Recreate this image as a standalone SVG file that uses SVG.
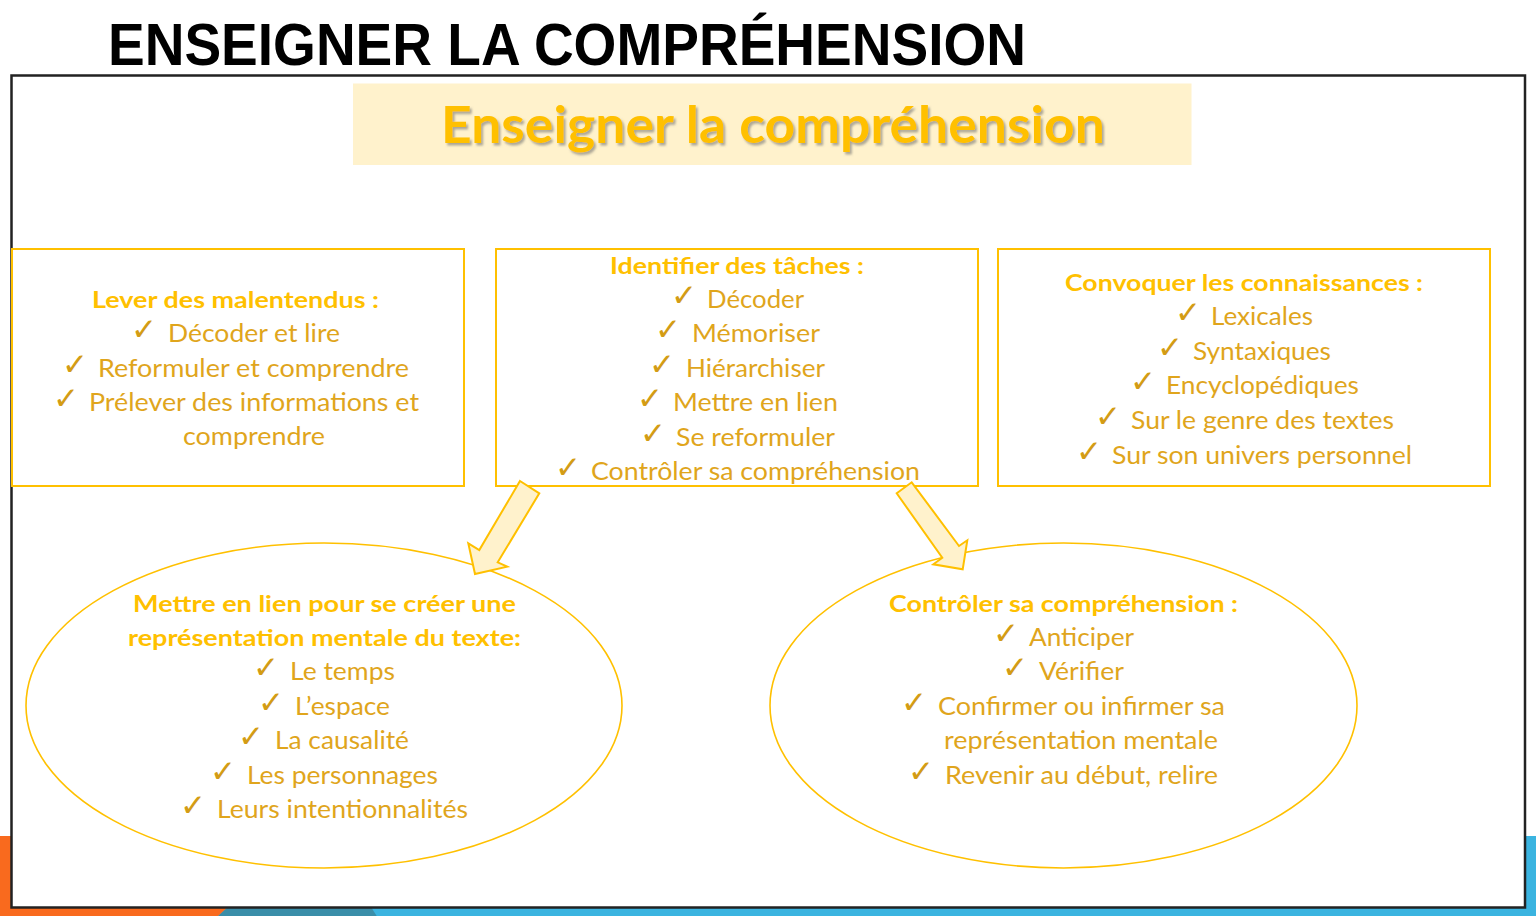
<svg xmlns="http://www.w3.org/2000/svg" width="1536" height="916" viewBox="0 0 1536 916">
<defs>
<filter id="sh" x="-5%" y="-20%" width="110%" height="150%">
<feDropShadow dx="2" dy="2.5" stdDeviation="1.2" flood-color="#6b6b6b" flood-opacity="0.55"/>
</filter>
</defs>
<style>
.h{font-family:Lato,"Open Sans","Liberation Sans",sans-serif;font-weight:700;font-size:22px;fill:#FFC000}
.t{font-family:Lato,"Open Sans","Liberation Sans",sans-serif;font-size:25.5px;fill:#E0A51C}
.ck{font-family:"DejaVu Sans",sans-serif;font-size:31px;fill:#D39C15}
.box{fill:#FFFFFF;stroke:#FFC000;stroke-width:2}
.ell{fill:none;stroke:#FFC000;stroke-width:1.6}
.arr{fill:#FFF2CC;stroke:#FFC000;stroke-width:2;stroke-linejoin:miter}
</style>
<rect x="0" y="0" width="1536" height="916" fill="#FFFFFF"/>
<g id="decor">
<rect x="0" y="836" width="1536" height="80" fill="#3BB4E0"/>
<polygon points="235.4,900 366.7,900 376.7,916 218,916" fill="#3A8EA9"/>
<polygon points="0,836 11,836 11,900 235.4,900 218,916 0,916" fill="#F96A1E"/>
<rect x="11.5" y="75.5" width="1513.5" height="832" fill="#FFFFFF" stroke="#222222" stroke-width="2.5"/>
</g>
<g id="page-title">
<text x="108" y="65" font-family="'Liberation Sans Narrow','Liberation Sans',Arial,sans-serif" font-weight="700" font-size="59" fill="#000000" textLength="918" lengthAdjust="spacingAndGlyphs">ENSEIGNER LA COMPRÉHENSION</text>
</g>
<g id="banner">
<rect x="353" y="83.5" width="838.5" height="81.5" fill="#FFF2CC"/>
<text x="441" y="143.3" font-family="Lato,'Open Sans',sans-serif" font-weight="700" font-size="51" fill="#FFC000" filter="url(#sh)" textLength="664" lengthAdjust="spacingAndGlyphs">Enseigner la compréhension</text>
</g>
<g id="box-malentendus">
<rect class="box" x="12" y="249" width="452" height="237"/>
<text class="h" x="92" y="308" textLength="287" lengthAdjust="spacingAndGlyphs">Lever des malentendus :</text>
<text class="ck" x="131" y="340">✓</text>
<text class="t" x="168" y="342" textLength="172" lengthAdjust="spacingAndGlyphs">Décoder et lire</text>
<text class="ck" x="62" y="374.5">✓</text>
<text class="t" x="98" y="376.5" textLength="311" lengthAdjust="spacingAndGlyphs">Reformuler et comprendre</text>
<text class="ck" x="53" y="409">✓</text>
<text class="t" x="89" y="411" textLength="330" lengthAdjust="spacingAndGlyphs">Prélever des informations et</text>
<text class="t" x="183" y="445" textLength="142" lengthAdjust="spacingAndGlyphs">comprendre</text>
</g>
<g id="box-taches">
<rect class="box" x="496" y="249" width="482" height="237"/>
<text class="h" x="610" y="274" textLength="254" lengthAdjust="spacingAndGlyphs">Identifier des tâches :</text>
<text class="ck" x="671" y="306">✓</text>
<text class="t" x="707" y="308" textLength="97" lengthAdjust="spacingAndGlyphs">Décoder</text>
<text class="ck" x="655" y="340">✓</text>
<text class="t" x="692" y="342" textLength="128" lengthAdjust="spacingAndGlyphs">Mémoriser</text>
<text class="ck" x="649" y="375">✓</text>
<text class="t" x="686" y="377" textLength="139" lengthAdjust="spacingAndGlyphs">Hiérarchiser</text>
<text class="ck" x="637" y="409">✓</text>
<text class="t" x="673" y="411" textLength="165" lengthAdjust="spacingAndGlyphs">Mettre en lien</text>
<text class="ck" x="640" y="444">✓</text>
<text class="t" x="676" y="446" textLength="159" lengthAdjust="spacingAndGlyphs">Se reformuler</text>
<text class="ck" x="555" y="478">✓</text>
<text class="t" x="591" y="480" textLength="329" lengthAdjust="spacingAndGlyphs">Contrôler sa compréhension</text>
</g>
<g id="box-connaissances">
<rect class="box" x="998" y="249" width="492" height="237"/>
<text class="h" x="1065" y="291" textLength="358" lengthAdjust="spacingAndGlyphs">Convoquer les connaissances :</text>
<text class="ck" x="1175" y="323">✓</text>
<text class="t" x="1211" y="325" textLength="102" lengthAdjust="spacingAndGlyphs">Lexicales</text>
<text class="ck" x="1157" y="358">✓</text>
<text class="t" x="1193" y="360" textLength="138" lengthAdjust="spacingAndGlyphs">Syntaxiques</text>
<text class="ck" x="1130" y="392">✓</text>
<text class="t" x="1166" y="394" textLength="193" lengthAdjust="spacingAndGlyphs">Encyclopédiques</text>
<text class="ck" x="1095" y="427">✓</text>
<text class="t" x="1131" y="429" textLength="263" lengthAdjust="spacingAndGlyphs">Sur le genre des textes</text>
<text class="ck" x="1076" y="461.5">✓</text>
<text class="t" x="1112" y="463.5" textLength="300" lengthAdjust="spacingAndGlyphs">Sur son univers personnel</text>
</g>
<g id="ellipse-representation">
<ellipse class="ell" cx="324" cy="705.5" rx="298" ry="162.5"/>
<text class="h" x="133" y="612" textLength="383" lengthAdjust="spacingAndGlyphs">Mettre en lien pour se créer une</text>
<text class="h" x="128" y="646" textLength="393" lengthAdjust="spacingAndGlyphs">représentation mentale du texte:</text>
<text class="ck" x="253" y="678">✓</text>
<text class="t" x="290" y="680" textLength="105" lengthAdjust="spacingAndGlyphs">Le temps</text>
<text class="ck" x="258" y="713">✓</text>
<text class="t" x="295" y="715" textLength="95" lengthAdjust="spacingAndGlyphs">L’espace</text>
<text class="ck" x="238" y="747">✓</text>
<text class="t" x="275" y="749" textLength="134" lengthAdjust="spacingAndGlyphs">La causalité</text>
<text class="ck" x="210" y="782">✓</text>
<text class="t" x="247" y="784" textLength="191" lengthAdjust="spacingAndGlyphs">Les personnages</text>
<text class="ck" x="180" y="816">✓</text>
<text class="t" x="217" y="818" textLength="251" lengthAdjust="spacingAndGlyphs">Leurs intentionnalités</text>
</g>
<g id="ellipse-controle">
<ellipse class="ell" cx="1063.5" cy="705.5" rx="293.5" ry="162.5"/>
<text class="h" x="889" y="612" textLength="349" lengthAdjust="spacingAndGlyphs">Contrôler sa compréhension :</text>
<text class="ck" x="993" y="644">✓</text>
<text class="t" x="1029" y="646" textLength="105" lengthAdjust="spacingAndGlyphs">Anticiper</text>
<text class="ck" x="1002" y="678">✓</text>
<text class="t" x="1039" y="680" textLength="85" lengthAdjust="spacingAndGlyphs">Vérifier</text>
<text class="ck" x="901" y="713">✓</text>
<text class="t" x="938" y="715" textLength="287" lengthAdjust="spacingAndGlyphs">Confirmer ou infirmer sa</text>
<text class="t" x="944" y="749" textLength="274" lengthAdjust="spacingAndGlyphs">représentation mentale</text>
<text class="ck" x="908" y="782">✓</text>
<text class="t" x="945" y="784" textLength="273" lengthAdjust="spacingAndGlyphs">Revenir au début, relire</text>
</g>
<g id="connectors">
<polygon class="arr" points="520,481 539.3,493.3 497.7,562.3 507.3,566.7 475,574 468.3,543.3 479.3,550"/>
<polygon class="arr" points="896.7,493.3 911.7,482.3 959,546 967.3,540.3 962.7,569.3 933.3,564.3 942.3,557.7"/>
</g>
</svg>
